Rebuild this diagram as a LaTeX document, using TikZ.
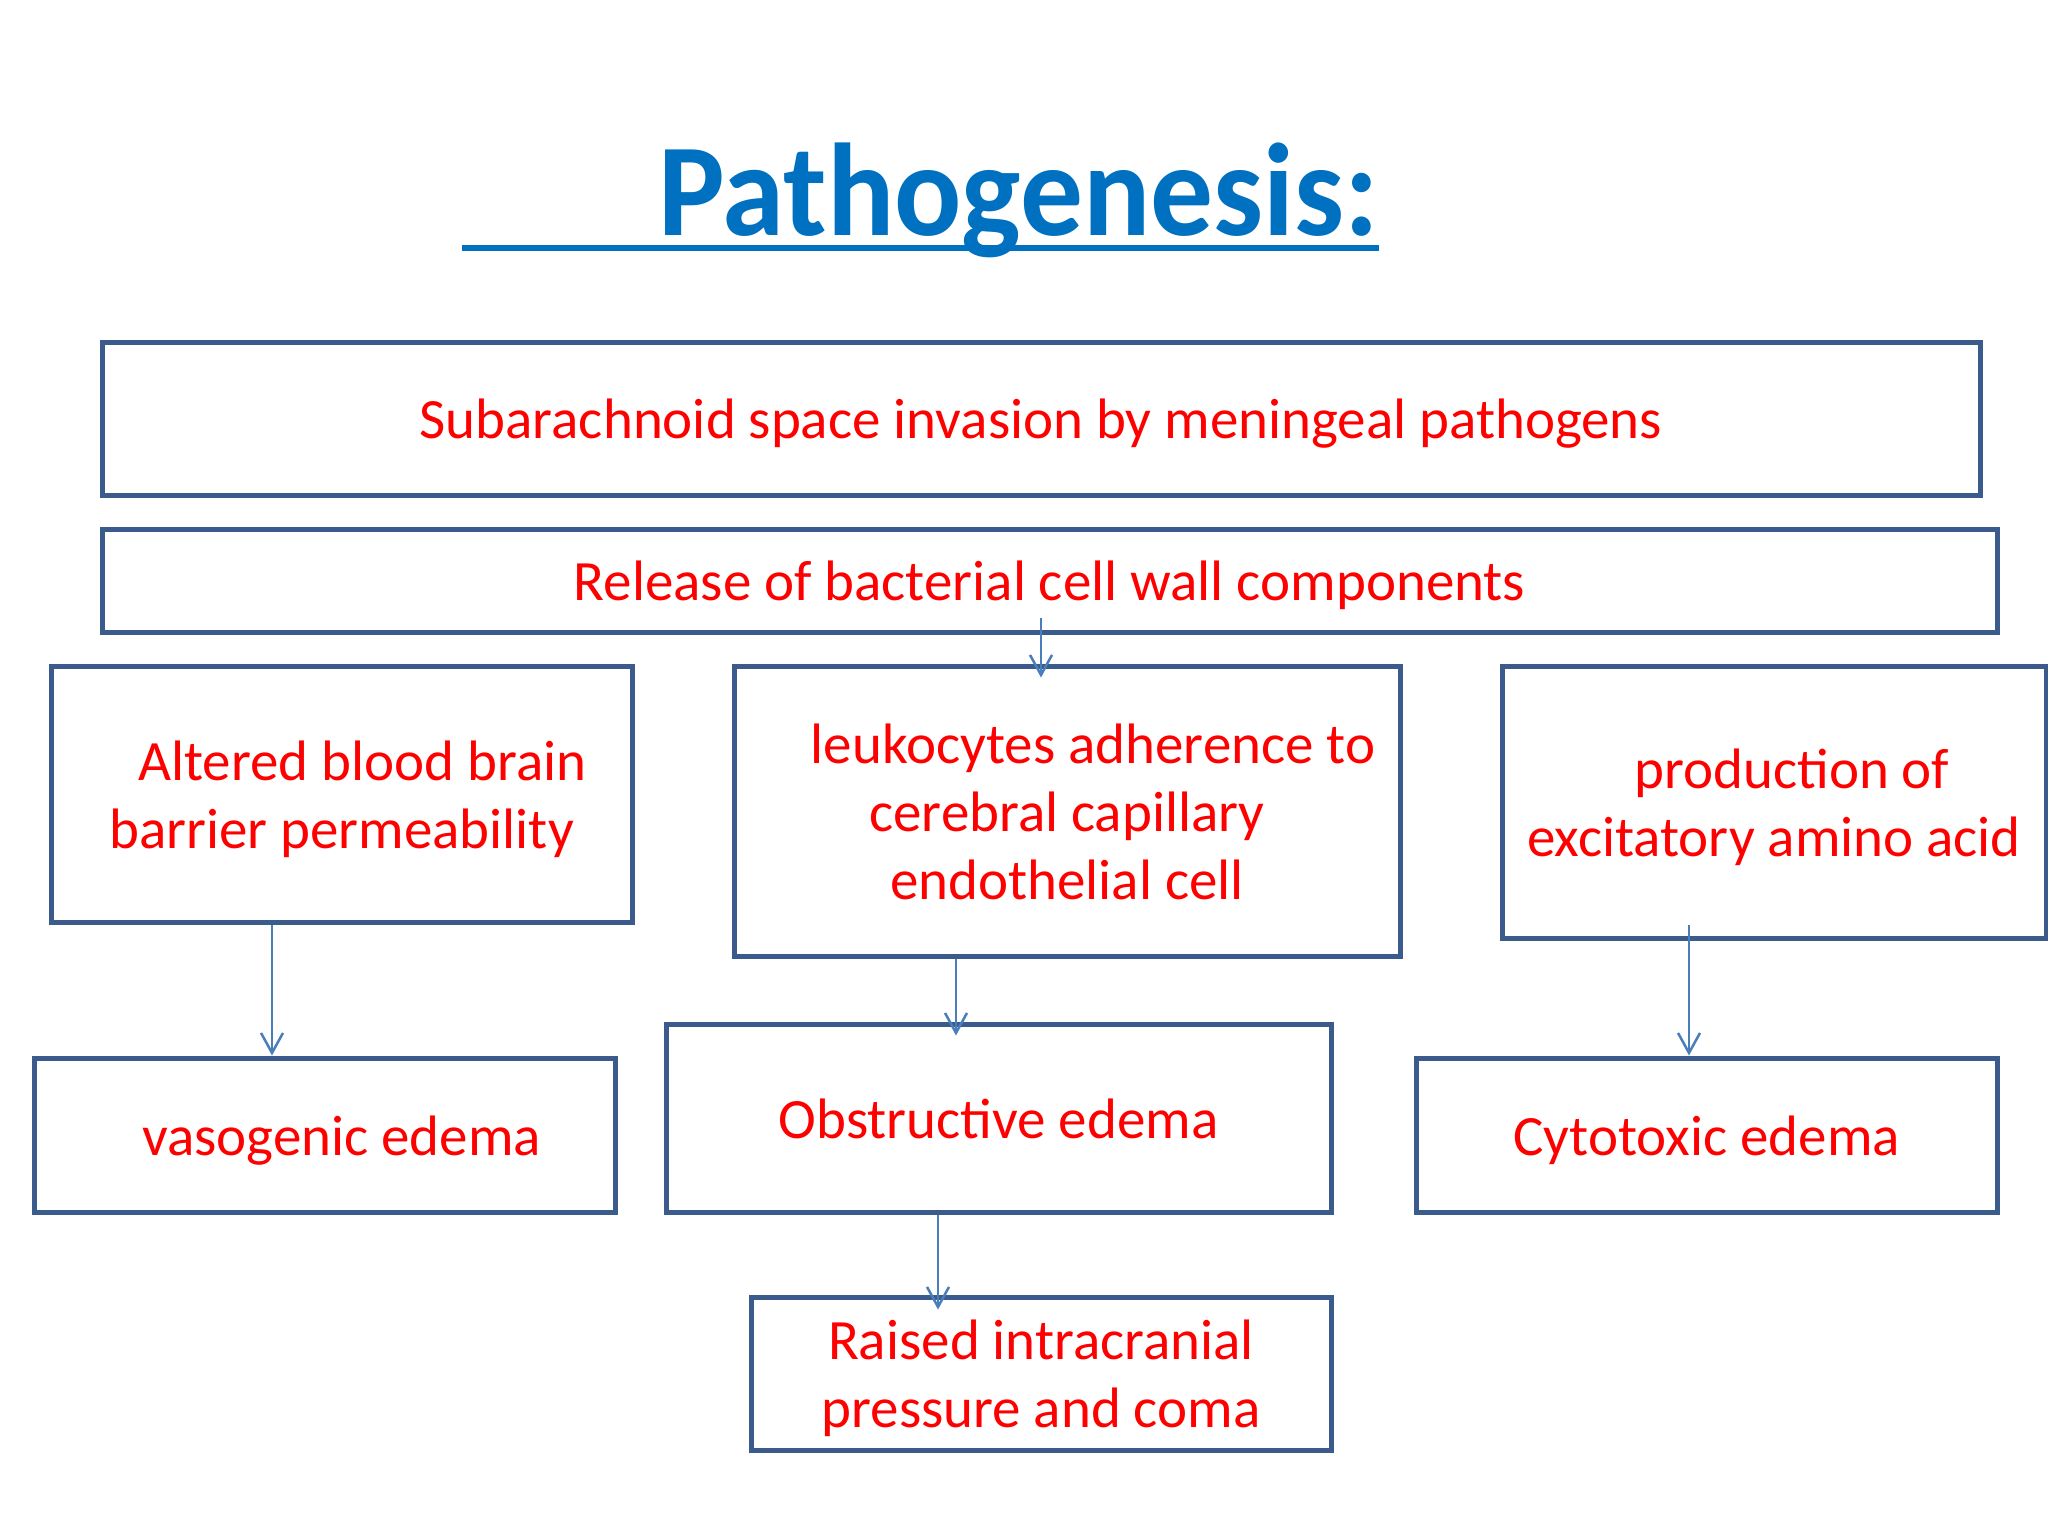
\documentclass[tikz,border=0pt]{standalone}
\usepackage{fontspec}
\setmainfont{Carlito}
\usepackage{tikz}
\usetikzlibrary{arrows.meta}
\definecolor{SlideTitle}{HTML}{0070C0}
\definecolor{SlideRed}{HTML}{FF0000}
\definecolor{SlideEdge}{HTML}{3B5B8C}
\definecolor{SlideArrow}{HTML}{4A7EBB}
\newcommand{\boxstrut}[1][50pt]{\rule{0pt}{#1}}

\begin{document}
\begin{tikzpicture}[x=1pt,y=-1pt,>={Straight Barb[length=20pt,width=22pt]}]
  \tikzstyle{pathbox}=[draw=SlideEdge,line width=5pt,text=SlideRed,
    align=center,inner sep=0pt,font=\fontsize{57}{68}\selectfont]
  \tikzstyle{pathflow}=[->,line width=2.5pt,color=SlideArrow]
  \fill[white] (0,0) rectangle (2048,1536);
  \useasboundingbox (0,0) rectangle (2048,1536);
  % title
  \node[anchor=base east,inner sep=0pt,text=SlideTitle,
    font=\bfseries\fontsize{132}{150}\selectfont] (title) at (1379,235)
    {\scalebox{0.95}[1]{Pathogenesis:}};
  \draw[SlideTitle,line width=6pt] ([yshift=-13pt]title.base east) -- ++(-917,0);
  % boxes
  \node[pathbox,minimum width=1878pt,minimum height=153pt] (sub) at (1041,418.5)
    {\boxstrut Subarachnoid space invasion by meningeal pathogens};
  \node[pathbox,minimum width=1895pt,minimum height=103pt] (rel) at (1049.5,580.5)
    {\boxstrut Release of bacterial cell wall components};
  \node[pathbox,minimum width=581pt,minimum height=256pt] (alt) at (341.5,794)
    {\boxstrut\hspace*{42pt}Altered blood brain\\barrier permeability};
  \node[pathbox,minimum width=666pt,minimum height=290pt] (leu) at (1067,811)
    {\boxstrut[42pt]\hspace*{52pt}leukocytes adherence to\\cerebral capillary\\endothelial cell};
  \node[pathbox,minimum width=544pt,minimum height=272pt] (exc) at (1774,802)
    {\boxstrut\hspace*{36pt}production of\\excitatory amino acid};
  \node[pathbox,minimum width=581pt,minimum height=154pt] (vas) at (324.5,1135)
    {\boxstrut\hspace*{34pt}vasogenic edema};
  \node[pathbox,minimum width=665pt,minimum height=188pt] (obs) at (998.5,1118)
    {\boxstrut[42pt]Obstructive edema};
  \node[pathbox,minimum width=581pt,minimum height=154pt] (cyt) at (1706.5,1135)
    {\boxstrut Cytotoxic edema};
  \node[pathbox,minimum width=580pt,minimum height=153pt] (rai) at (1041,1373.5)
    {\boxstrut Raised intracranial\\pressure and coma};
  % arrows
  \draw[pathflow] ([xshift=-8.5pt,yshift=17pt]rel.south) -- ([xshift=-26pt,yshift=-14pt]leu.north);
  \draw[pathflow] ([xshift=-69.5pt]alt.south) -- ([xshift=-52.5pt]vas.north);
  \draw[pathflow] ([xshift=-111pt]leu.south) -- ([xshift=-42.5pt,yshift=-14pt]obs.north);
  \draw[pathflow] ([xshift=-85pt,yshift=16pt]exc.south) -- ([xshift=-17.5pt]cyt.north);
  \draw[pathflow] ([xshift=-60.5pt]obs.south) -- ([xshift=-103pt,yshift=-15pt]rai.north);
\end{tikzpicture}
\end{document}
